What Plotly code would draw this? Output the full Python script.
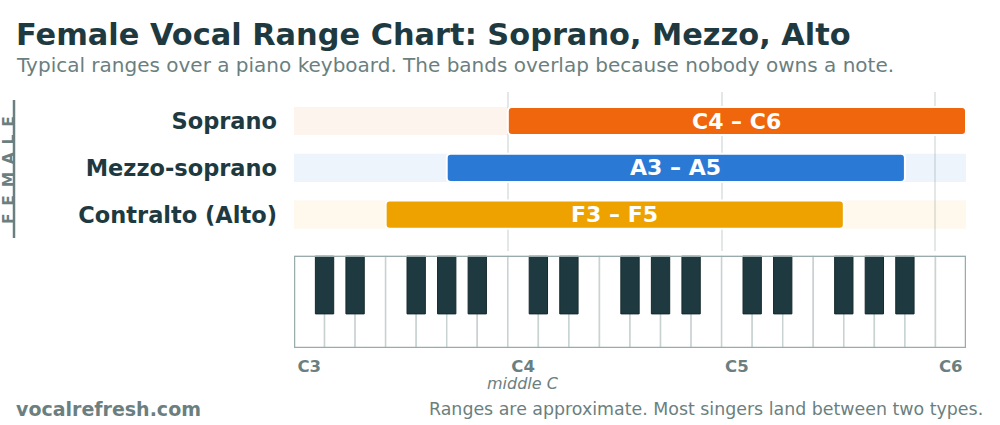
import plotly.graph_objects as go

# Voice types, their ranges and colours (top row first on the chart)
voices = ["Soprano", "Mezzo-soprano", "Contralto (Alto)"]
low_notes = ["C4", "A3", "F3"]
high_notes = ["C6", "A5", "F5"]
bar_colors = ["#f0660c", "#2a79d5", "#eea200"]
band_colors = ["rgba(240,102,12,0.07)", "rgba(42,121,213,0.08)", "rgba(238,162,0,0.07)"]

# Keyboard: white keys C3 .. C6, black keys sit on the boundary after these notes
white_names = ["C", "D", "E", "F", "G", "A", "B"]
octaves = [3, 4, 5]
black_after = ["C", "D", "F", "G", "A"]

# Axis labels under the keyboard
tick_notes = ["C3", "C4", "C5", "C6"]

DARK = "#1e3a40"
GREY = "#6b7f80"
FONT = "DejaVu Sans"

white_keys = [n + str(o) for o in octaves for n in white_names] + ["C6"]


def key_index(note):
    return white_keys.index(note)


n_white = len(white_keys)
black_pos = [key_index(n + str(o)) + 1 for o in octaves for n in black_after]

fig = go.Figure()

# light background bands, one per voice
y_pos = [2, 1, 0]
fig.add_trace(go.Bar(
    y=y_pos, x=[n_white] * 3, base=[0] * 3, orientation="h", width=0.6,
    marker=dict(color=band_colors, line=dict(width=0)),
    hoverinfo="skip", showlegend=False,
))

# the range bars
starts = [key_index(n) for n in low_notes]
ends = [key_index(n) + 1 for n in high_notes]
fig.add_trace(go.Bar(
    y=y_pos, x=[e - s for s, e in zip(starts, ends)], base=starts,
    orientation="h", width=0.6,
    marker=dict(color=bar_colors, line=dict(color="white", width=2), cornerradius=4),
    hoverinfo="skip", showlegend=False,
))

# range labels in the middle of each bar (plotly shrinks inside bar text, so use annotations)
for y, s, e, lo, hi in zip(y_pos, starts, ends, low_notes, high_notes):
    fig.add_annotation(text=lo + " – " + hi, x=(s + e) / 2, y=y, xref="x", yref="y",
                       showarrow=False, xanchor="center", yanchor="middle",
                       font=dict(size=22, color="white", weight="bold"))

# white keys
fig.add_trace(go.Bar(
    x=[i + 0.5 for i in range(n_white)], y=[1] * n_white, base=[0] * n_white, width=1,
    marker=dict(color="white", line=dict(color="#c8d2d2", width=1.5)),
    xaxis="x2", yaxis="y2", hoverinfo="skip", showlegend=False,
))

# black keys
fig.add_trace(go.Bar(
    x=black_pos, y=[0.63] * len(black_pos), base=[0.37] * len(black_pos), width=0.6,
    marker=dict(color=DARK, line=dict(color="#16292d", width=1)),
    xaxis="x2", yaxis="y2", hoverinfo="skip", showlegend=False,
))

# keyboard frame
fig.add_shape(type="rect", xref="x2", yref="y2", x0=0, x1=n_white, y0=0, y1=1,
              line=dict(color="#9aabab", width=2.5))

fig.update_layout(
    width=1000, height=425,
    margin=dict(l=294, r=34, t=92, b=77),
    paper_bgcolor="white", plot_bgcolor="rgba(0,0,0,0)",
    barmode="overlay",
    font=dict(family=FONT, color=DARK),
    xaxis=dict(range=[0, n_white], tickvals=[0, 7, 14, 21], showticklabels=False,
               showgrid=True, gridcolor="#e2e8e8", gridwidth=1.5, zeroline=False,
               anchor="y", fixedrange=True),
    yaxis=dict(domain=[0.38, 1], range=[-0.77, 2.62], tickvals=y_pos, ticktext=voices,
               tickfont=dict(size=22.5, color=DARK, weight="bold"), ticklabelstandoff=16,
               showgrid=False, zeroline=False, fixedrange=True),
    xaxis2=dict(range=[0, n_white], matches="x", anchor="y2",
                tickvals=[key_index(n) + 0.5 for n in tick_notes], ticktext=tick_notes,
                tickfont=dict(size=16.5, color=GREY, weight="bold"), ticklabelstandoff=6,
                showgrid=False, zeroline=False),
    yaxis2=dict(domain=[0, 0.36], range=[0, 1], showticklabels=False,
                showgrid=False, zeroline=False, fixedrange=True),
)

fig.add_annotation(text="Female Vocal Range Chart: Soprano, Mezzo, Alto",
                   xref="paper", yref="paper", x=-280 / 672, y=1.223, xanchor="left", yanchor="middle",
                   showarrow=False, font=dict(size=30.4, color=DARK, weight="bold"))
fig.add_annotation(text="Typical ranges over a piano keyboard. The bands overlap because nobody owns a note.",
                   xref="paper", yref="paper", x=-280 / 672, y=1.105, xanchor="left", yanchor="middle",
                   showarrow=False, font=dict(size=20, color=GREY))
fig.add_annotation(text="middle C", xref="x2", yref="paper", x=key_index("C4") + 0.5, y=-0.14,
                   xanchor="center", yanchor="middle",
                   showarrow=False, font=dict(size=16, color=GREY, style="italic"))
fig.add_annotation(text="vocalrefresh.com", xref="paper", yref="paper", x=-280 / 672, y=-0.24,
                   xanchor="left", yanchor="middle", showarrow=False,
                   font=dict(size=19, color=GREY, weight="bold"))
fig.add_annotation(text="Ranges are approximate. Most singers land between two types.",
                   xref="paper", yref="paper", x=1 + 19 / 672, y=-0.24,
                   xanchor="right", yanchor="middle", showarrow=False,
                   font=dict(size=17.4, color=GREY))

# side label with its rule
fig.add_annotation(text="\u2002".join("FEMALE"), xref="paper", yref="paper",
                   x=-285 / 672, y=(348 - 170) / 256, xanchor="center", yanchor="middle",
                   textangle=-90, showarrow=False, font=dict(size=15.5, color=GREY, weight="bold"))
fig.add_shape(type="line", xref="paper", yref="paper", x0=-280 / 672, x1=-280 / 672,
              y0=(348 - 238) / 256, y1=(348 - 100) / 256, line=dict(color=GREY, width=2.5))

# page has a default 8px body margin, drop it so the figure sits at the corner
fig.write_html("out.html", config={"displayModeBar": False},
               post_script="document.body.style.margin = '0';")
